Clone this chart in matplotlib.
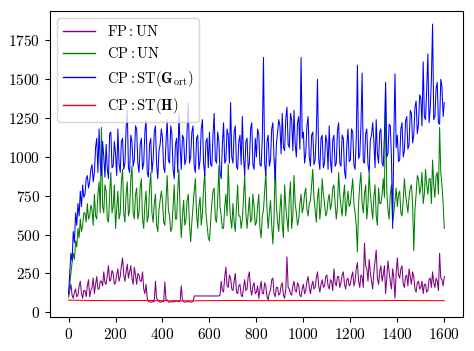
import numpy as np
import matplotlib

matplotlib.use("Agg")
import matplotlib.pyplot as plt

# values, one every 5 iterations (20 per row = 100 iterations)
cp_st_gort = [
    120, 250, 380, 330, 520, 450, 640, 560, 700, 620, 780, 680, 820, 740, 760, 860, 880, 800, 840, 920,
    950, 840, 900, 1060, 1120, 900, 1180, 960, 880, 1100, 1000, 870, 1080, 920, 860, 1150, 1160, 930, 940, 1100,
    1020, 880, 1180, 960, 900, 1100, 1120, 920, 960, 1180, 1300, 930, 900, 1140, 1100, 940, 980, 1200, 1180, 960,
    900, 1080, 1120, 920, 960, 1160, 1240, 900, 870, 1080, 1120, 900, 980, 1160, 1200, 950, 860, 1040, 1080, 1180,
    1120, 930, 900, 1100, 1240, 980, 960, 1200, 1150, 920, 860, 1080, 1120, 900, 1280, 1060, 920, 1140, 1120, 950,
    980, 1180, 1350, 960, 1000, 1160, 1200, 940, 900, 1120, 1140, 920, 980, 1180, 1240, 960, 880, 1100, 1120, 930,
    1160, 950, 940, 1140, 1280, 980, 960, 1160, 1100, 900, 860, 1080, 1220, 960, 980, 1180, 1140, 960, 1350, 1000,
    960, 1160, 1200, 940, 920, 1100, 1140, 950, 1260, 1000, 880, 1100, 1120, 920, 960, 1180, 1220, 950, 920, 1120,
    1000, 1180, 1150, 950, 940, 1120, 1640, 960, 880, 1100, 1140, 940, 980, 1180, 1220, 980, 850, 1080, 1160, 1240,
    1200, 1020, 1280, 1060, 1040, 1250, 1320, 1080, 1060, 1280, 1240, 1040, 1300, 1080, 1000, 1220, 1260, 1050, 1640, 1120,
    1160, 960, 1020, 1200, 1260, 1000, 940, 1140, 1160, 950, 980, 1160, 1500, 990, 920, 1120, 1140, 930, 960, 1140,
    1100, 920, 1200, 980, 900, 1110, 1140, 940, 960, 1170, 1220, 960, 940, 1140, 1120, 910, 860, 1080, 1180, 970,
    980, 1180, 1160, 950, 920, 1110, 1590, 990, 1010, 1200, 1540, 970, 960, 1150, 1180, 950, 900, 1110, 1140, 1220,
    1100, 930, 1240, 1020, 960, 1160, 1180, 960, 940, 1140, 1480, 1000, 1020, 1210, 1200, 990, 540, 1120, 1535, 1060,
    1140, 970, 980, 1180, 1220, 1000, 1040, 1230, 1260, 1050, 1080, 1300, 1280, 1090, 1140, 1320, 1360, 1150, 1210, 1400,
    1380, 1200, 1612, 1260, 1240, 1440, 1663, 1220, 1310, 1500, 1855, 1240, 1260, 1440, 1480, 1220, 1210, 1500, 1450, 1260,
    1350,
]

cp_un = [
    100, 180, 250, 320, 380, 340, 460, 420, 540, 480, 600, 520, 560, 640, 640, 580, 700, 600, 620, 690,
    660, 560, 760, 620, 600, 760, 840, 640, 1190, 680, 640, 820, 780, 600, 580, 760, 900, 640, 680, 820,
    540, 660, 780, 600, 640, 840, 920, 640, 580, 760, 840, 620, 660, 860, 940, 640, 600, 760, 800, 600,
    640, 800, 860, 600, 540, 700, 780, 580, 620, 800, 900, 640, 580, 700, 760, 560, 520, 660, 720, 780,
    720, 580, 560, 720, 880, 660, 620, 520, 540, 680, 820, 600, 600, 780, 920, 640, 480, 620, 720, 560,
    600, 720, 760, 560, 454, 580, 680, 780, 860, 640, 540, 680, 740, 560, 640, 800, 900, 640, 560, 480,
    460, 580, 700, 780, 800, 600, 580, 720, 940, 680, 620, 540, 540, 680, 760, 620, 953, 720, 600, 540,
    700, 580, 520, 680, 820, 620, 620, 540, 600, 740, 880, 640, 540, 640, 740, 580, 600, 760, 680, 560,
    580, 680, 760, 540, 480, 620, 660, 780, 900, 660, 540, 640, 720, 560, 440, 600, 985, 680, 580, 520,
    660, 760, 560, 480, 820, 680, 600, 520, 740, 840, 540, 620, 880, 700, 640, 560, 600, 700, 760, 640,
    680, 760, 800, 660, 620, 700, 720, 820, 920, 740, 660, 580, 740, 800, 600, 680, 860, 760, 700, 620,
    640, 720, 760, 660, 700, 800, 820, 700, 600, 680, 900, 760, 680, 620, 740, 820, 620, 700, 780, 680,
    700, 780, 860, 700, 640, 560, 390, 700, 820, 900, 700, 640, 760, 820, 600, 700, 900, 760, 680, 600,
    740, 820, 620, 560, 800, 700, 700, 760, 860, 740, 1433, 780, 660, 600, 760, 820, 580, 640, 720, 800,
    680, 760, 780, 640, 620, 720, 860, 760, 700, 640, 740, 800, 820, 700, 397, 660, 760, 880, 860, 760,
    800, 900, 700, 760, 920, 820, 760, 860, 860, 700, 980, 820, 740, 880, 900, 760, 1190, 900, 820, 700,
    540,
]

fp_un = [
    100, 140, 180, 110, 90, 130, 150, 100, 110, 170, 200, 120, 90, 140, 140, 100, 170, 210, 100, 140,
    160, 220, 120, 180, 230, 150, 150, 200, 200, 170, 260, 190, 180, 240, 300, 200, 210, 270, 250, 180,
    190, 240, 280, 200, 230, 300, 350, 240, 200, 260, 310, 220, 260, 300, 220, 180, 290, 240, 180, 250,
    240, 200, 200, 260, 150, 120, 180, 90, 70, 68, 65, 66, 70, 68, 200, 90, 80, 70, 65, 67,
    70, 68, 195, 80, 80, 66, 65, 67, 70, 66, 68, 70, 75, 68, 70, 69, 170, 80, 68, 66,
    66, 68, 70, 66, 65, 67, 68, 105, 105, 105, 105, 105, 105, 105, 105, 105, 105, 105, 105, 105,
    105, 105, 105, 105, 105, 105, 105, 105, 105, 110, 200, 140, 130, 230, 290, 170, 160, 240, 220, 150,
    140, 200, 250, 130, 120, 170, 180, 110, 100, 160, 210, 140, 150, 230, 260, 150, 110, 170, 190, 120,
    130, 170, 90, 150, 200, 120, 120, 190, 170, 100, 80, 130, 140, 210, 220, 120, 100, 160, 160, 110,
    120, 170, 190, 110, 90, 150, 357, 160, 150, 120, 110, 170, 200, 140, 130, 190, 170, 110, 100, 150,
    180, 120, 140, 200, 230, 160, 120, 170, 200, 150, 160, 220, 260, 170, 130, 180, 210, 160, 170, 230,
    240, 170, 150, 210, 200, 140, 280, 190, 170, 230, 230, 160, 190, 240, 260, 180, 150, 210, 220, 170,
    180, 230, 260, 170, 200, 280, 320, 200, 160, 240, 230, 160, 444, 300, 280, 200, 340, 260, 200, 150,
    260, 330, 400, 220, 180, 260, 300, 200, 240, 300, 120, 220, 330, 260, 200, 150, 280, 220, 90, 250,
    350, 240, 220, 280, 300, 180, 160, 230, 240, 170, 280, 230, 180, 260, 230, 150, 130, 190, 200, 150,
    160, 200, 120, 180, 180, 130, 140, 210, 220, 160, 260, 190, 160, 220, 200, 140, 380, 220, 210, 170,
    230,
]

# CP : ST(H) is almost flat, one value every 100 iterations
cp_st_h = [78, 76, 75, 76, 75, 74, 75, 76, 75, 75, 76, 75, 74, 75, 76, 75, 75]

plt.rcParams["font.family"] = "serif"
plt.rcParams["font.serif"] = ["cmr10", "DejaVu Serif"]
plt.rcParams["mathtext.fontset"] = "cm"
plt.rcParams["axes.formatter.use_mathtext"] = True

fig = plt.figure(figsize=(4.74, 3.51), dpi=100)
ax = fig.add_axes([0.105, 0.097, 0.872, 0.872])

lw = 0.75
ax.plot(np.arange(len(fp_un)) * 5, fp_un, color="purple", lw=lw,
        label=r"$\mathrm{FP}:\mathrm{UN}$")
ax.plot(np.arange(len(cp_un)) * 5, cp_un, color="green", lw=lw,
        label=r"$\mathrm{CP}:\mathrm{UN}$")
ax.plot(np.arange(len(cp_st_gort)) * 5, cp_st_gort, color="blue", lw=lw,
        label=r"$\mathrm{CP}:\mathrm{ST}(\mathbf{G}_{\mathrm{ort}})$")
ax.plot(np.arange(len(cp_st_h)) * 100, cp_st_h, color="red", lw=lw,
        label=r"$\mathrm{CP}:\mathrm{ST}(\mathbf{H})$")

ax.set_yticks([0, 250, 500, 750, 1000, 1250, 1500, 1750])
ax.set_xticks([0, 200, 400, 600, 800, 1000, 1200, 1400, 1600])
ax.set_xlim(-80, 1680)
ax.set_ylim(-30, 1940)
ax.tick_params(labelsize=11)
leg = ax.legend(loc="upper left", fontsize=10.5, handlelength=2.2)
for line in leg.get_lines():
    line.set_linewidth(1.0)

fig.savefig("out.png", dpi=100)
